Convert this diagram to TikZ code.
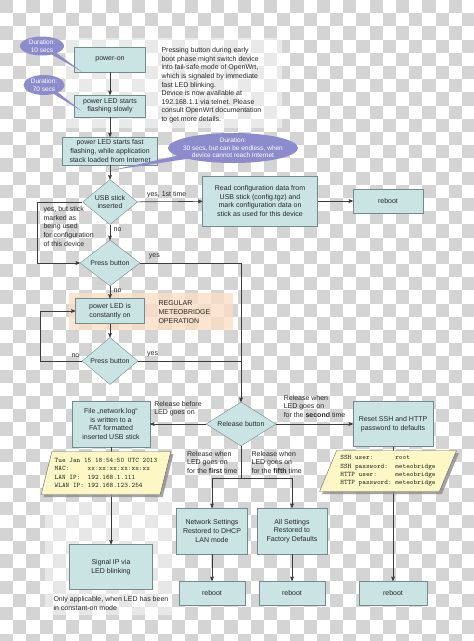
\documentclass[tikz,border=0pt]{standalone}
\usepackage{fontspec}
\setmainfont{Liberation Sans}
\usetikzlibrary{arrows}
\usetikzlibrary{shapes.geometric,shapes.callouts,shadows}
\definecolor{boxfill}{RGB}{202,228,228}
\definecolor{boxline}{RGB}{112,140,140}
\definecolor{bubblefill}{RGB}{140,140,204}
\definecolor{memofill}{RGB}{252,247,196}
\definecolor{peach}{RGB}{250,222,196}
\definecolor{wire}{RGB}{60,60,60}

\begin{document}
\begin{tikzpicture}[x=1pt, y=-1pt,
  every node/.style={font=\fontsize{7}{8.6}\selectfont, text=black!85},
  box/.style={draw=boxline, fill=boxfill, align=center, inner sep=1pt},
  ask/.style={diamond, aspect=1.3, draw=boxline, fill=boxfill, align=center, inner sep=0pt},
  bubbly/.style={ellipse callout, fill=bubblefill, text=white, align=center, inner sep=0pt,
    font=\fontsize{6.5}{7.5}\selectfont},
  memo/.style={trapezium, trapezium stretches=true, trapezium left angle=66, trapezium right angle=114,
    draw=black!60, fill=memofill, align=left, inner sep=0pt, font=\fontsize{6.9}{8.4}\ttfamily,
    drop shadow={shadow xshift=2.5pt, shadow yshift=-2.5pt, fill=black!45, opacity=.8}},
  flow/.style={draw=wire, line width=.6pt, ->, >=stealth'},
  wireline/.style={draw=wire, line width=.6pt},
  checker/.style={fill=black!17}]
\useasboundingbox (0,0) rectangle (474,641);

% background squares and panels
\begin{scope}
\clip (0,0) rectangle (474,641);
\foreach \i in {0,2,...,36} {
 \foreach \j in {0,2,...,48} {
  \fill[checker] (\i*13.2,\j*13.2) rectangle ++(13.2,13.2);
  \fill[checker] (\i*13.2+13.2,\j*13.2+13.2) rectangle ++(13.2,13.2);
 }
}
\end{scope}
\fill[white, opacity=.5] (65,38) rectangle (282,128);
\fill[peach, opacity=.8] (69,293) rectangle (233,330);
\fill[white, opacity=.45] (45,502) rectangle (172,615);

% boot phase
\node[box, minimum width=71pt, minimum height=25pt] (poweron) at (110,59.5) {power-on};
\node[box, minimum width=71pt, minimum height=22pt] (slow) at (110,106) {power LED starts\\flashing slowly};
\node[box, minimum width=95pt, minimum height=28pt] (fast) at (110,151) {power LED starts fast\\flashing, while application\\stack loaded from Internet};
\node[anchor=north west, align=left] (bootnote) at (158,44) {Pressing button during early\\boot phase might switch device\\into fail-safe mode of OpenWrt,\\which is signaled by immediate\\fast LED blinking.\\Device is now available at\\192.168.1.1 via telnet. Please\\consult OpenWrt documentation\\to get more details.};
\node[bubbly, minimum width=44pt, minimum height=19pt, callout relative pointer={(28pt,-18pt)}] (durA) at (42,46) {Duration:\\10 secs};
\node[bubbly, minimum width=41pt, minimum height=20pt, callout relative pointer={(26pt,-18pt)}] (durB) at (44,85) {Duration:\\70 secs};
\node[bubbly, inner sep=-5pt, minimum width=130pt, minimum height=30pt, callout relative pointer={(-71pt,-13pt)}] (durC) at (233,148) {Duration:\\30 secs, but can be endless, when\\device cannot reach Internet};

% usb stick and regular operation
\node[ask, minimum width=55pt, minimum height=45pt] (usb) at (110,202) {USB stick\\inserted};
\node[box, minimum width=115pt, minimum height=50pt] (readcfg) at (260,201) {Read configuration data from\\USB stick (config.tgz) and\\mark configuration data on\\stick as used for this device};
\node[box, minimum width=70pt, minimum height=24pt] (rbA) at (388,201) {reboot};
\node[ask, minimum width=60pt, minimum height=46pt] (pressA) at (110,263) {Press button};
\node[anchor=north west, align=left] (usedtxt) at (40,203) {yes, but stick\\marked as\\being used\\for configuration\\of this device};
\node[box, minimum width=69pt, minimum height=25pt] (steady) at (110,311) {power LED is\\constantly on};
\node[anchor=west, align=left] (regular) at (155,312) {REGULAR\\METEOBRIDGE\\OPERATION};
\node[ask, minimum width=56pt, minimum height=47pt] (pressB) at (110,361) {Press button};

% release button
\node[ask, aspect=1.6, minimum width=70pt, minimum height=44pt] (release) at (241,424) {Release button};
\node[box, minimum width=78pt, minimum height=46pt] (netlog) at (111,424) {File „network.log“\\is written to a\\FAT formatted\\inserted USB stick};
\node[box, minimum width=80pt, minimum height=45pt] (reset) at (393,424) {Reset SSH and HTTP\\password to defaults};
\node[box, minimum width=71pt, minimum height=46pt] (netcfg) at (212,531) {Network Settings\\Restored to DHCP\\LAN mode};
\node[box, minimum width=70pt, minimum height=46pt] (factory) at (292,531) {All Settings\\Restored to\\Factory Defaults};
\node[box, minimum width=66pt, minimum height=24pt] (rbB) at (212,593) {reboot};
\node[box, minimum width=66pt, minimum height=24pt] (rbC) at (292,593) {reboot};
\node[box, minimum width=68pt, minimum height=24pt] (rbD) at (393,593) {reboot};
\node[box, minimum width=83pt, minimum height=45pt] (signal) at (111,567) {Signal IP via\\LED blinking};
\node[anchor=north west, align=left] (onlynote) at (50,593) {Only applicable, when LED has been\\in constant-on mode};

% connectors
\draw[flow] (poweron) -- (slow);
\draw[flow] (slow) -- (fast);
\draw[flow] (fast) -- (usb);
\draw[flow] (usb) -- node[above, pos=.45]{yes, 1st time} (readcfg);
\draw[flow] (readcfg) -- (rbA);
\draw[flow] (usb) -- node[right, pos=.3]{no} (pressA);
\draw[flow] (usb.west) -- ++(-45,0) |- (pressA.west);
\draw[flow] (pressA.east) -| node[above, pos=.07]{yes} (release.north);
\draw[flow] (pressA) -- node[right, pos=.35]{no} (steady);
\draw[flow] (steady) -- (pressB);
\draw[flow] (pressB.west) -- node[above, pos=.15]{no} ++(-42,0) |- (steady.west);
\draw[wireline] (pressB.east) -- node[above, pos=.14]{yes} (pressB.east -| release.north);
\draw[flow] (release) -- node[above, align=left, yshift=4pt]{Release before\\LED goes on} (netlog);
\draw[flow] (release) -- node[above, align=left, yshift=3pt]{Release when\\LED goes on\\for the \textbf{second} time} (reset);
\draw[wireline] (release.south) -- node[left, align=left]{Release when\\LED goes on\\for the \textbf{first} time}
  node[right, align=left, xshift=7pt]{Release when\\LED goes on\\for the \textbf{fifth} time} ++(0,32) coordinate (split);
\draw[flow] (split) -| (netcfg.north);
\draw[flow] (split) -| (factory.north);
\draw[flow] (netcfg) -- (rbB);
\draw[flow] (factory) -- (rbC);
\draw[flow] (reset) -- (rbD);
\draw[flow] (netlog) -- (signal);

% log notes
\node[memo, trapezium left angle=71, trapezium right angle=109, minimum width=130pt, minimum height=43pt] (lanlog) at (106,473)
  {Tue~Jan~15~18:54:50~UTC~2013\\MAC:~~~~~xx:xx:xx:xx:xx:xx\\LAN~IP:~~192.168.1.111\\WLAN~IP:~192.168.123.254};
\node[memo, trapezium left angle=63, trapezium right angle=117, minimum width=137pt, minimum height=41pt] (pwlog) at (388,471)
  {SSH~user:~~~~~~root\\SSH~password:~~meteobridge\\HTTP~user:~~~~~meteobridge\\HTTP~password:~meteobridge};
\end{tikzpicture}
\end{document}
